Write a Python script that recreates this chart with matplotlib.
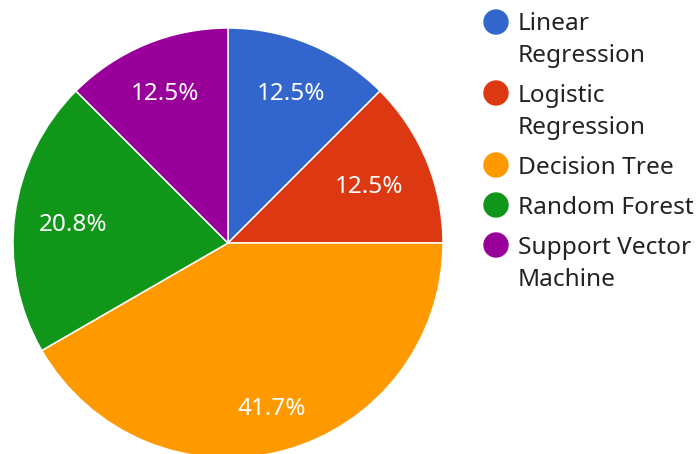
import matplotlib
matplotlib.use("Agg")
import matplotlib.pyplot as plt
import numpy as np

categories = ["Linear Regression", "Logistic Regression", "Decision Tree",
              "Random Forest", "Support Vector Machine"]
legend_lines = [["Linear", "Regression"], ["Logistic", "Regression"],
                ["Decision Tree"], ["Random Forest"], ["Support Vector", "Machine"]]
values = [3, 3, 10, 5, 3]
colors = ["#3366cc", "#dc3912", "#ff9900", "#109618", "#990099"]

W, H = 696, 454
plt.rcParams['font.family'] = ['Noto Sans', 'DejaVu Sans']
fig = plt.figure(figsize=(W / 100, H / 100), dpi=100)
ax = fig.add_axes([0, 0, 1, 1])
ax.set_xlim(0, W)
ax.set_ylim(0, H)
ax.set_aspect('equal')
ax.axis('off')

cx, cy, R = 228, H - 243, 215
wedges, texts, autotexts = ax.pie(
    values, colors=colors, startangle=90, counterclock=False,
    center=(cx, cy), radius=R, autopct='%1.1f%%', pctdistance=0.75,
    wedgeprops=dict(edgecolor='white', linewidth=1.1),
    textprops=dict(color='white', fontsize=17.5))
ax.set_xlim(0, W)
ax.set_ylim(0, H)

# per-label radial placement
rfac = [0.765, 0.71, 0.785, 0.725, 0.765]
for w, t, f in zip(wedges, autotexts, rfac):
    ang = np.deg2rad((w.theta1 + w.theta2) / 2)
    t.set_position((cx + f * R * np.cos(ang), cy + f * R * np.sin(ang) - 2.5))
    t.set_ha('center'); t.set_va('center')

# legend
circle_y = [22, 93, 165, 205, 245]
for lines, col, yc in zip(legend_lines, colors, circle_y):
    ax.add_patch(plt.Circle((496, H - yc), 12, color=col, zorder=3))
    for i, ln in enumerate(lines):
        ax.text(518, H - (yc + 8.5 + 32 * i), ln, fontsize=17.6, color='#222222',
                ha='left', va='baseline')

fig.savefig("out.png", dpi=100)
